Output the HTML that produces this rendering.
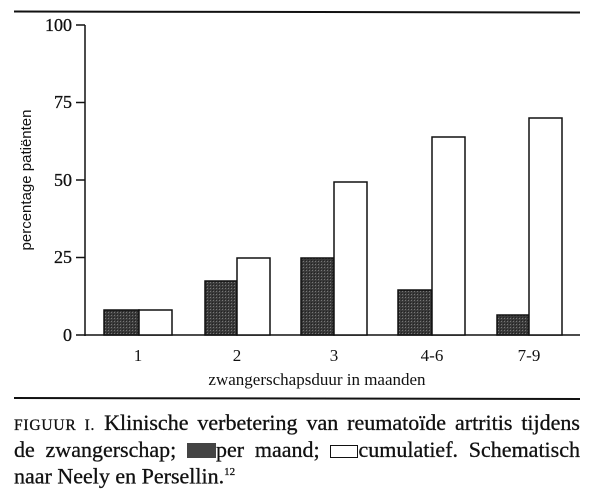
<!DOCTYPE html>
<html><head><meta charset="utf-8"><style>
body{margin:0;background:#fff;}
.cap{position:absolute;left:14px;top:411px;font-family:"Liberation Serif",serif;font-size:22px;line-height:23.5px;color:#111;width:566px;-webkit-text-stroke:0.3px #111;}
.cap div{white-space:nowrap}
.j{text-align:justify;text-align-last:justify;}
.sc{font-size:15.5px;letter-spacing:0.8px}
</style></head><body>
<div style="position:relative;width:600px;height:492px;overflow:hidden">
<svg width="600" height="492" style="position:absolute;left:0;top:0" font-family="Liberation Serif, serif">
<defs><pattern id="d" width="3" height="3" patternUnits="userSpaceOnUse"><rect width="3" height="3" fill="#3a3a3a"/><rect width="1" height="1" fill="#777"/><rect x="2" y="2" width="1" height="1" fill="#222"/></pattern></defs>
<line x1="14" y1="11.5" x2="580" y2="12.5" stroke="#111" stroke-width="2"/>
<line x1="14" y1="398" x2="580" y2="399" stroke="#111" stroke-width="2"/>
<line x1="85" y1="25" x2="85" y2="336" stroke="#111" stroke-width="1.5"/>
<line x1="76" y1="335" x2="580" y2="335" stroke="#111" stroke-width="1.5"/>
<g stroke="#111" stroke-width="1.5">
<line x1="76" y1="25" x2="85" y2="25"/><line x1="76" y1="102.5" x2="85" y2="102.5"/><line x1="76" y1="180" x2="85" y2="180"/><line x1="76" y1="257.5" x2="85" y2="257.5"/></g>
<g font-size="18" text-anchor="end" fill="#111" stroke="#111" stroke-width="0.3">
<text x="72" y="31">100</text><text x="72" y="108">75</text><text x="72" y="186">50</text><text x="72" y="263">25</text><text x="72" y="341">0</text></g>
<text transform="translate(31,180) rotate(-90)" font-family="Liberation Sans, sans-serif" font-size="15" text-anchor="middle" fill="#111">percentage patiënten</text>
<g stroke="#111" stroke-width="1.5">
<rect x="104" y="310" width="35" height="25" fill="url(#d)"/><rect x="139" y="310" width="33" height="25" fill="#fff"/>
<rect x="205" y="281" width="32" height="54" fill="url(#d)"/><rect x="237" y="258" width="33" height="77" fill="#fff"/>
<rect x="301" y="258" width="33" height="77" fill="url(#d)"/><rect x="334" y="182" width="33" height="153" fill="#fff"/>
<rect x="398" y="290" width="34" height="45" fill="url(#d)"/><rect x="432" y="137" width="33" height="198" fill="#fff"/>
<rect x="497" y="315" width="32" height="20" fill="url(#d)"/><rect x="529" y="118" width="33" height="217" fill="#fff"/>
</g>
<g font-size="17" text-anchor="middle" fill="#111">
<text x="138" y="361">1</text><text x="237" y="361">2</text><text x="334" y="361">3</text><text x="432" y="361">4-6</text><text x="529" y="361">7-9</text>
<text x="317" y="385">zwangerschapsduur in maanden</text></g>
</svg>
<div class="cap">
<div class="j"><span class="sc">FIGUUR I.</span> Klinische verbetering van reumatoïde artritis tijdens</div>
<div class="j">de zwangerschap; <span style="display:inline-block;width:29px;height:15px;background:#444;vertical-align:-1px"></span>per maand; <span style="display:inline-block;width:28px;height:13px;border:1.5px solid #111;vertical-align:-1px;box-sizing:border-box"></span>cumulatief. Schematisch</div>
<div>naar Neely en Persellin.<sup style="font-size:11px">12</sup></div>
</div>
</div>
</body></html>
